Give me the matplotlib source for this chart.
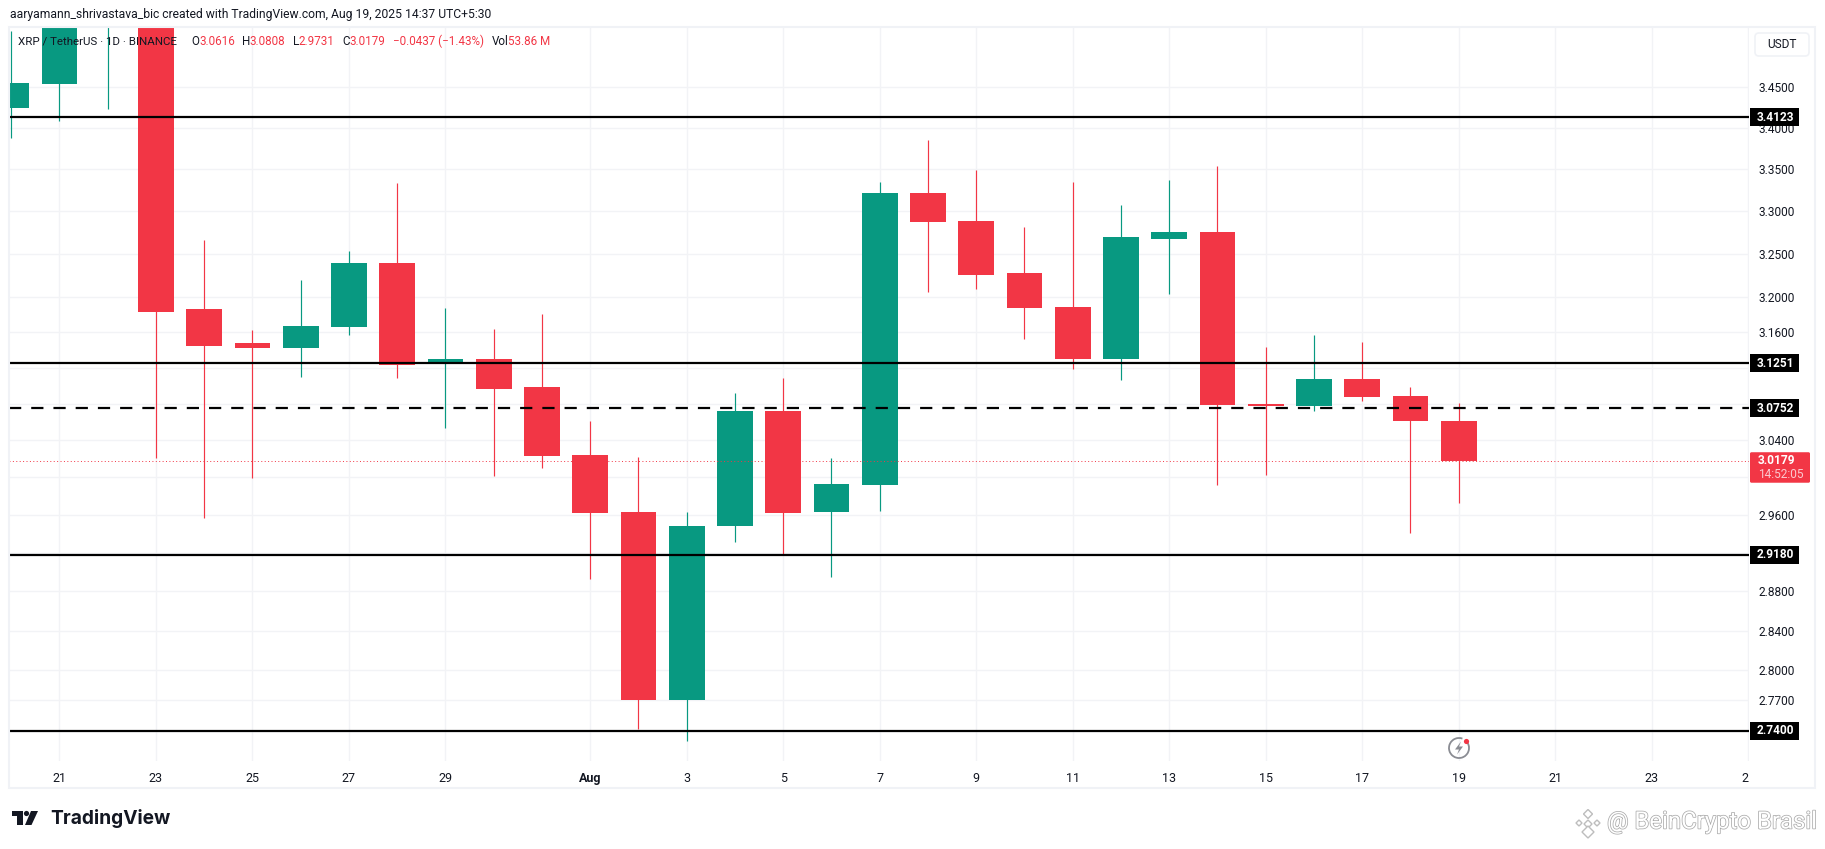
import matplotlib
matplotlib.use("Agg")
import matplotlib.pyplot as plt
import matplotlib.dates as mdates
import matplotlib.patheffects as pe
from matplotlib.patches import Rectangle, FancyBboxPatch, Circle, Polygon, Arc
from matplotlib.transforms import Bbox, TransformedBbox
import pandas as pd

plt.rcParams["font.family"] = ["Roboto", "DejaVu Sans"]

# Daily candles (Jul 21-22 bodies run past the top of the pane)
dates = pd.date_range("2025-07-20", "2025-08-19", freq="D")
opens = [3.4235, 3.4536, 3.55, 3.56, 3.1858, 3.1475, 3.1423, 3.1659, 3.2392, 3.1240, 3.1293, 3.0982,
         3.0243, 2.9631, 2.7699, 2.9483, 3.0724, 2.9630, 2.9918, 3.3211, 3.2881, 3.2271, 3.1884,
         3.1293, 3.2676, 3.2758, 3.0802, 3.0776, 3.1071, 3.0891, 3.0616]
highs = [3.519, 3.60, 3.62, 3.60, 3.2663, 3.162, 3.2191, 3.2527, 3.3336, 3.1871, 3.1633, 3.1804,
         3.0610, 3.0217, 2.9631, 3.0917, 3.1085, 3.0205, 3.3349, 3.3853, 3.3489, 3.2813, 3.3349,
         3.3073, 3.3363, 3.3530, 3.1436, 3.1566, 3.1488, 3.0982, 3.0808]
lows = [3.387, 3.408, 3.422, 3.0205, 2.957, 2.9992, 3.1098, 3.1566, 3.1085, 3.0534, 3.0018, 3.0105,
        2.8926, 2.7413, 2.7299, 2.9313, 2.9191, 2.8953, 2.9643, 3.2057, 3.2097, 3.1527, 3.1188,
        3.1059, 3.2030, 2.9918, 3.0030, 3.0724, 3.0829, 2.9410, 2.9731]
closes = [3.455, 3.55, 3.56, 3.183, 3.1448, 3.1423, 3.1672, 3.2392, 3.1228, 3.1293, 3.0969, 3.0230,
          2.9619, 2.7699, 2.9483, 3.0724, 2.9619, 2.9930, 3.3211, 3.2867, 3.2257, 3.1871, 3.1293,
          3.2690, 3.2758, 3.0789, 3.0776, 3.1071, 3.0879, 3.0616, 3.0179]

# Price axis; the empty labels sit behind the level tags in the picture
price_ticks = [3.45, 3.40, 3.35, 3.30, 3.25, 3.20, 3.16, 3.12, 3.08, 3.04, 3.00, 2.96, 2.92, 2.88,
               2.84, 2.80, 2.77, 2.74]
price_labels = ["3.4500", "3.4000", "3.3500", "3.3000", "3.2500", "3.2000", "3.1600", "", "", "3.0400",
                "", "2.9600", "", "2.8800", "2.8400", "2.8000", "2.7700", ""]
solid_levels = [3.4123, 3.1251, 2.9180, 2.7400]
dashed_level = 3.0752
last_price = 3.0179
countdown = "14:52:05"

# Time axis
time_ticks = ["2025-07-21", "2025-07-23", "2025-07-25", "2025-07-27", "2025-07-29", "2025-08-01",
              "2025-08-03", "2025-08-05", "2025-08-07", "2025-08-09", "2025-08-11", "2025-08-13",
              "2025-08-15", "2025-08-17", "2025-08-19", "2025-08-21", "2025-08-23", "2025-08-25"]
time_labels = ["21", "23", "25", "27", "29", "Aug", "3", "5", "7", "9", "11", "13", "15", "17", "19",
               "21", "23", "25"]

GREEN = "#089981"
RED = "#F23645"
GRID = "#f2f3f6"
FRAME = "#f0f2f6"
TEXT = "#131722"

W, H = 1825, 849
fig = plt.figure(figsize=(W / 100, H / 100), dpi=100, facecolor="white")

# Chart pane, 9..1749 px across and 27..761 px down
ax = fig.add_axes([9 / W, 1 - 761 / H, (1749 - 9) / W, (761 - 27) / H])
ax.set_yscale("log")
ax.set_ylim(2.7105, 3.5245)
x0 = mdates.date2num(pd.Timestamp("2025-07-20"))
ax.set_xlim(x0 - 2.15 / 48.25, x0 + 1737.85 / 48.25)
for s in ax.spines.values():
    s.set_visible(False)

xs = mdates.date2num(dates)
colors = [GREEN if c >= o else RED for o, c in zip(opens, closes)]
bottoms = [min(o, c) for o, c in zip(opens, closes)]
heights = [abs(o - c) for o, c in zip(opens, closes)]
ax.vlines(xs, lows, highs, colors=colors, linewidth=0.85, zorder=3)
ax.bar(xs, heights, bottom=bottoms, width=0.74, color=colors, linewidth=0, zorder=4)

for lvl in solid_levels:
    ax.axhline(lvl, color="black", linewidth=1.6, zorder=6)
ax.axhline(dashed_level, color="black", linewidth=1.6, linestyle=(0, (5.5, 4.5)), zorder=6)
ax.axhline(last_price, color=RED, linewidth=0.7, linestyle=(0, (1, 2.5)), zorder=5)

ax.yaxis.tick_right()
ax.set_yticks(price_ticks)
ax.set_yticklabels(price_labels)
ax.minorticks_off()
ax.tick_params(axis="y", which="both", length=0, pad=6.5, labelsize=8.6, labelcolor=TEXT)
ax.set_xticks(mdates.date2num(pd.to_datetime(time_ticks)))
ax.set_xticklabels(time_labels)
ax.tick_params(axis="x", length=0, pad=8, labelsize=9, labelcolor=TEXT)
ax.grid(True, color=GRID, linewidth=1, zorder=0)
ax.set_axisbelow(True)

# The last date label is cut off where the price axis starts
clip = TransformedBbox(Bbox([[0, 0], [1749 / W, 1]]), fig.transFigure)
for lab in ax.get_xticklabels():
    lab.set_clip_box(clip)
    lab.set_clip_on(True)
    if lab.get_text() == "Aug":
        lab.set_fontweight("bold")

# Overlay in pixel coordinates for the price tags, legend and logos
ov = fig.add_axes([0, 0, 1, 1], zorder=10)
ov.set_xlim(0, W)
ov.set_ylim(H, 0)
ov.axis("off")
ov.patch.set_alpha(0)


def price_y(p):
    return H - ax.transData.transform((x0, p))[1]


ov.add_patch(Rectangle((9, 27), 1806, 761, fill=False, edgecolor=FRAME, linewidth=1.5))

ov.text(10, 14.5, "aaryamann_shrivastava_bic created with TradingView.com, Aug 19, 2025 14:37 UTC+5:30",
        fontsize=8.7, color=TEXT, va="center")

# Legend row
legend_bits = [(18, "XRP / TetherUS · 1D · BINANCE", TEXT, 8.25), (191, "O", TEXT, 8.4), (199, "3.0616", RED, 8.4),
               (242, "H", TEXT, 8.4), (249, "3.0808", RED, 8.4), (293, "L", TEXT, 8.4), (299, "2.9731", RED, 8.4),
               (342, "C", TEXT, 8.4), (349, "3.0179", RED, 8.4), (393, "−0.0437 (−1.43%)", RED, 8.4),
               (492, "Vol", TEXT, 8.4), (508, "53.86 M", RED, 8.4)]
for lx, txt, col, fs in legend_bits:
    ov.text(lx, 41.5, txt, fontsize=fs, color=col, va="center")

# USDT button
ov.add_patch(FancyBboxPatch((1755, 33), 54, 23, boxstyle="round,pad=0,rounding_size=4", facecolor="white",
                            edgecolor=FRAME, linewidth=1.2))
ov.text(1782, 44.5, "USDT", fontsize=8.6, color=TEXT, ha="center", va="center")

# Level tags
for lvl in solid_levels + [dashed_level]:
    y = price_y(lvl)
    ov.add_patch(Rectangle((1750, y - 9), 49, 18, facecolor="black", edgecolor="none"))
    ov.text(1775, y, f"{lvl:.4f}", color="white", fontsize=8.6, fontweight="bold", ha="center", va="center")

y = price_y(last_price)
ov.add_patch(FancyBboxPatch((1750, y - 8.5), 60, 30.5, boxstyle="round,pad=0,rounding_size=1.5",
                            facecolor=RED, edgecolor="none"))
ov.text(1758, y - 0.5, f"{last_price:.4f}", color="white", fontsize=8.6, fontweight="bold", va="center")
ov.text(1758, y + 14, countdown, color="#fbc9cf", fontsize=8.6, va="center")

# Lightning icon above the Aug 19 label
ov.add_patch(Arc((1459, 748), 20, 20, theta1=-40, theta2=290, edgecolor="#8a8c93", linewidth=1.3))
ov.add_patch(Polygon([(1461, 741.5), (1455, 749.5), (1459, 749.5), (1457, 754.5), (1463, 746.5), (1459, 746.5)],
                     facecolor="#8a8c93", edgecolor="none"))
ov.add_patch(Circle((1466.5, 741.5), 2.6, facecolor=RED, edgecolor="none"))

# TradingView logo
ov.add_patch(Polygon([(12, 811), (23, 811), (23, 825), (17, 825), (17, 816), (12, 816)], facecolor=TEXT, edgecolor="none"))
ov.add_patch(Circle((26.5, 813.5), 2.6, facecolor=TEXT, edgecolor="none"))
ov.add_patch(Polygon([(31, 811), (38, 811), (31.5, 825), (25, 825)], facecolor=TEXT, edgecolor="none"))
ov.text(50, 818.5, "TradingView", fontsize=13.8, fontweight="bold", color=TEXT, va="center",
        family=["Inter", "DejaVu Sans"])

# Watermark, sized to span 1607..1817 px
outline = [pe.withStroke(linewidth=1.1, foreground="#ababab")]
wm = ov.text(1607, 822, "@ BeinCrypto Brasil", fontsize=15, color="white", va="center", path_effects=outline)
wm_width = wm.get_window_extent(fig.canvas.get_renderer()).width
wm.set_fontsize(15 * 210 / wm_width)
for dx, dy, r in [(0, -9, 4.5), (-9, 0, 3), (9, 0, 3), (0, 1, 4), (0, 9, 6)]:
    ov.add_patch(Polygon([(1588 + dx, 823 + dy - r), (1588 + dx + r, 823 + dy), (1588 + dx, 823 + dy + r),
                          (1588 + dx - r, 823 + dy)], facecolor="white", edgecolor="#bdbdbd", linewidth=1.0))

fig.savefig("out.png", dpi=100, facecolor="white")
